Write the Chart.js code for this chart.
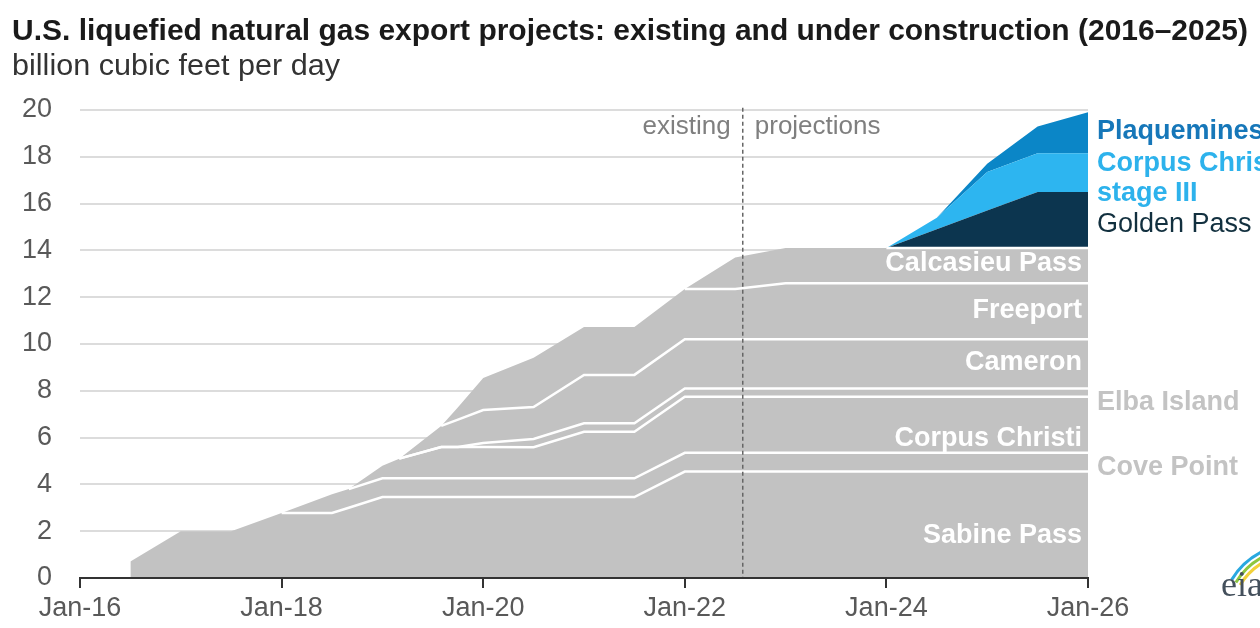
<!DOCTYPE html>
<html><head><meta charset="utf-8">
<script src="https://cdn.jsdelivr.net/npm/chart.js@4.4.1/dist/chart.umd.min.js"></script>
<style>html,body{margin:0;padding:0;background:#fff;}#wrap{width:1260px;height:628px;}</style>
</head><body><div id="wrap"><canvas id="c" width="1260" height="628"></canvas></div>
<script>
// months since Jan-2016
const months = [6,12,18,24,30,32,36,38,43,45,48,54,60,66,72,78,84,90,96,102,108,114,120];
const sabinePass     = [0.7,2.0,2.0,2.78,2.78,3.0,3.46,3.46,3.46,3.46,3.46,3.46,3.46,3.46,4.55,4.55,4.55,4.55,4.55,4.55,4.55,4.55,4.55];
const covePoint      = [0,0,0,0,0.8,0.8,0.8,0.8,0.8,0.8,0.8,0.8,0.8,0.8,0.8,0.8,0.8,0.8,0.8,0.8,0.8,0.8,0.8];
const corpusChristi  = [0,0,0,0,0,0,0.54,0.84,1.34,1.34,1.34,1.33,1.99,1.99,2.4,2.4,2.4,2.4,2.4,2.4,2.4,2.4,2.4];
const elbaIsland     = [0,0,0,0,0,0,0,0,0,0,0.17,0.35,0.36,0.36,0.35,0.35,0.35,0.35,0.35,0.35,0.35,0.35,0.35];
const cameron        = [0,0,0,0,0,0,0,0,0.9,1.17,1.41,1.37,2.07,2.07,2.1,2.1,2.1,2.1,2.1,2.1,2.1,2.1,2.1];
const freeport       = [0,0,0,0,0,0,0,0,0,0.53,1.37,2.1,2.05,2.05,2.15,2.15,2.4,2.4,2.4,2.4,2.4,2.4,2.4];
const calcasieuPass  = [0,0,0,0,0,0,0,0,0,0,0,0,0,0,0,1.35,1.5,1.5,1.5,1.5,1.5,1.5,1.5];
const goldenPass     = [0,0,0,0,0,0,0,0,0,0,0,0,0,0,0,0,0,0,0,0.8,1.6,2.4,2.4];
const corpusChristiIII = [0,0,0,0,0,0,0,0,0,0,0,0,0,0,0,0,0,0,0,0.5,1.65,1.65,1.65];
const plaquemines    = [0,0,0,0,0,0,0,0,0,0,0,0,0,0,0,0,0,0,0,0,0.35,1.15,1.75];
const seriesNames = ['Sabine Pass','Cove Point','Corpus Christi','Elba Island','Cameron','Freeport','Calcasieu Pass','Golden Pass','Corpus Christi stage III','Plaquemines'];
const seriesList = [sabinePass,covePoint,corpusChristi,elbaIsland,cameron,freeport,calcasieuPass,goldenPass,corpusChristiIII,plaquemines];
const yTicks = [0,2,4,6,8,10,12,14,16,18,20];
const xTickMonths = [0,24,48,72,96,120];
const xTickLabels = ['Jan-16','Jan-18','Jan-20','Jan-22','Jan-24','Jan-26'];
const dividerMonth = 78.9;

const GRAY = '#c2c2c2';
const fills = [GRAY,GRAY,GRAY,GRAY,GRAY,GRAY,GRAY,'#0c354f','#2db5f0','#0b86c7'];
const FONT = '"Liberation Sans", Arial, sans-serif';

// a white separator is drawn on top of a gray layer only where some layer sits above it
function needsSep(di, a, b){
  for (let j = di + 1; j < seriesList.length; j++) {
    if (seriesList[j][a] > 0 || seriesList[j][b] > 0) return true;
  }
  return false;
}

const datasets = seriesList.map((arr, i) => ({
  label: seriesNames[i],
  data: months.map((m, k) => ({x: m, y: arr[k]})),
  backgroundColor: fills[i],
  borderColor: 'rgba(0,0,0,0)',
  borderWidth: 0,
  fill: i === 0 ? 'origin' : '-1',
  pointRadius: 0,
  tension: 0
}));

const insideLabels = [
  {text:'Calcasieu Pass', v:13.45},
  {text:'Freeport', v:11.45},
  {text:'Cameron', v:9.2},
  {text:'Corpus Christi', v:5.95},
  {text:'Sabine Pass', v:1.8}
];
const outsideLabels = [
  {text:'Plaquemines', v:19.1, color:'#1677b9', bold:true},
  {text:'Corpus Christi', v:17.73, color:'#2db2ec', bold:true},
  {text:'stage III', v:16.45, color:'#2db2ec', bold:true},
  {text:'Golden Pass', v:15.12, color:'#12303f', bold:false},
  {text:'Elba Island', v:7.48, color:'#c3c3c3', bold:true},
  {text:'Cove Point', v:4.7, color:'#c3c3c3', bold:true}
];

function fitText(ctx, text, x, y, target){
  const w = ctx.measureText(text).width;
  const s = target / w;
  ctx.save(); ctx.translate(x, y); ctx.scale(s, 1); ctx.fillText(text, 0, 0); ctx.restore();
}

const annot = {
  id: 'annot',
  afterDatasetsDraw(chart){
    const {ctx, scales:{x, y}} = chart;
    ctx.save();
    // white separators between gray layers
    ctx.strokeStyle = '#ffffff'; ctx.lineWidth = 2.5; ctx.lineJoin = 'miter';
    for (let i = 0; i < 7; i++) {
      const pts = chart.getDatasetMeta(i).data;
      ctx.beginPath();
      let pen = false;
      for (let k = 0; k < pts.length - 1; k++) {
        if (needsSep(i, k, k + 1)) {
          if (!pen) { ctx.moveTo(pts[k].x, pts[k].y); pen = true; }
          ctx.lineTo(pts[k + 1].x, pts[k + 1].y);
        } else pen = false;
      }
      ctx.stroke();
    }
    // x axis line on top of areas
    ctx.strokeStyle = '#333333'; ctx.lineWidth = 2;
    ctx.beginPath(); ctx.moveTo(x.left - 1, y.bottom); ctx.lineTo(x.right + 1, y.bottom); ctx.stroke();
    // divider
    const xd = x.getPixelForValue(dividerMonth);
    ctx.setLineDash([4,3]); ctx.strokeStyle = '#666'; ctx.lineWidth = 1.5;
    ctx.beginPath(); ctx.moveTo(xd, y.getPixelForValue(20.1)); ctx.lineTo(xd, y.bottom - 1); ctx.stroke();
    ctx.setLineDash([]);
    ctx.font = '26px ' + FONT; ctx.fillStyle = '#7f7f7f'; ctx.textBaseline = 'middle';
    const ty = y.getPixelForValue(19.27);
    ctx.textAlign = 'right'; ctx.fillText('existing', xd - 12, ty);
    ctx.textAlign = 'left'; ctx.fillText('projections', xd + 12, ty);
    // inside labels
    ctx.font = 'bold 27px ' + FONT; ctx.fillStyle = '#ffffff'; ctx.textAlign = 'right';
    const xr = x.getPixelForValue(120);
    insideLabels.forEach(l => ctx.fillText(l.text, xr - 6, y.getPixelForValue(l.v)));
    ctx.textAlign = 'left';
    outsideLabels.forEach(l => {
      ctx.font = (l.bold ? 'bold ' : '') + '27px ' + FONT;
      ctx.fillStyle = l.color;
      ctx.fillText(l.text, xr + 9, y.getPixelForValue(l.v));
    });
    ctx.restore();
  },
  afterDraw(chart){
    const ctx = chart.ctx;
    ctx.save();
    ctx.textBaseline = 'alphabetic'; ctx.textAlign = 'left';
    ctx.fillStyle = '#1a1a1a'; ctx.font = 'bold 30px ' + FONT;
    fitText(ctx, 'U.S. liquefied natural gas export projects: existing and under construction (2016\u20132025)', 12, 40, 1236);
    ctx.fillStyle = '#333333'; ctx.font = '29px ' + FONT;
    fitText(ctx, 'billion cubic feet per day', 12, 75, 328);
    // eia logo (partially cut)
    ctx.lineWidth = 3;
    [['#f2d13a',64],['#8dc63f',69],['#29a8e0',74]].forEach(([c,r]) => {
      ctx.strokeStyle = c; ctx.beginPath(); ctx.arc(1295, 618, r, -2.6, -2.0); ctx.stroke();
    });
    ctx.fillStyle = '#44505c'; ctx.font = '36px "Liberation Serif", serif';
    ctx.fillText('eia', 1221, 596);
    ctx.restore();
  }
};

new Chart(document.getElementById('c'), {
  type: 'line',
  data: {datasets},
  options: {
    responsive: false, animation: false, devicePixelRatio: 1,
    events: [],
    layout: {padding: {left: 0, right: 172, top: 110, bottom: 0}},
    plugins: {legend: {display: false}, tooltip: {enabled: false}, title: {display: false}},
    scales: {
      x: {
        type: 'linear', min: 0, max: 120,
        afterBuildTicks: s => { s.ticks = xTickMonths.map(v => ({value: v})); },
        afterFit: s => { s.height = 50; },
        ticks: {
          callback: (v) => xTickLabels[xTickMonths.indexOf(v)],
          font: {family: FONT, size: 27}, color: '#595959', padding: 4, maxRotation: 0, autoSkip: false
        },
        grid: {display: true, drawOnChartArea: false, drawTicks: true, tickLength: 10, color: '#333333', lineWidth: 2},
        border: {display: true, color: '#333333', width: 2}
      },
      y: {
        stacked: true, min: 0, max: 20,
        afterBuildTicks: s => { s.ticks = yTicks.map(v => ({value: v})); },
        afterFit: s => { s.width = 80; },
        ticks: {font: {family: FONT, size: 27}, color: '#595959', padding: 28},
        grid: {color: '#dcdcdc', lineWidth: 2, drawTicks: false},
        border: {display: false}
      }
    }
  },
  plugins: [annot]
});
</script>
</body></html>
